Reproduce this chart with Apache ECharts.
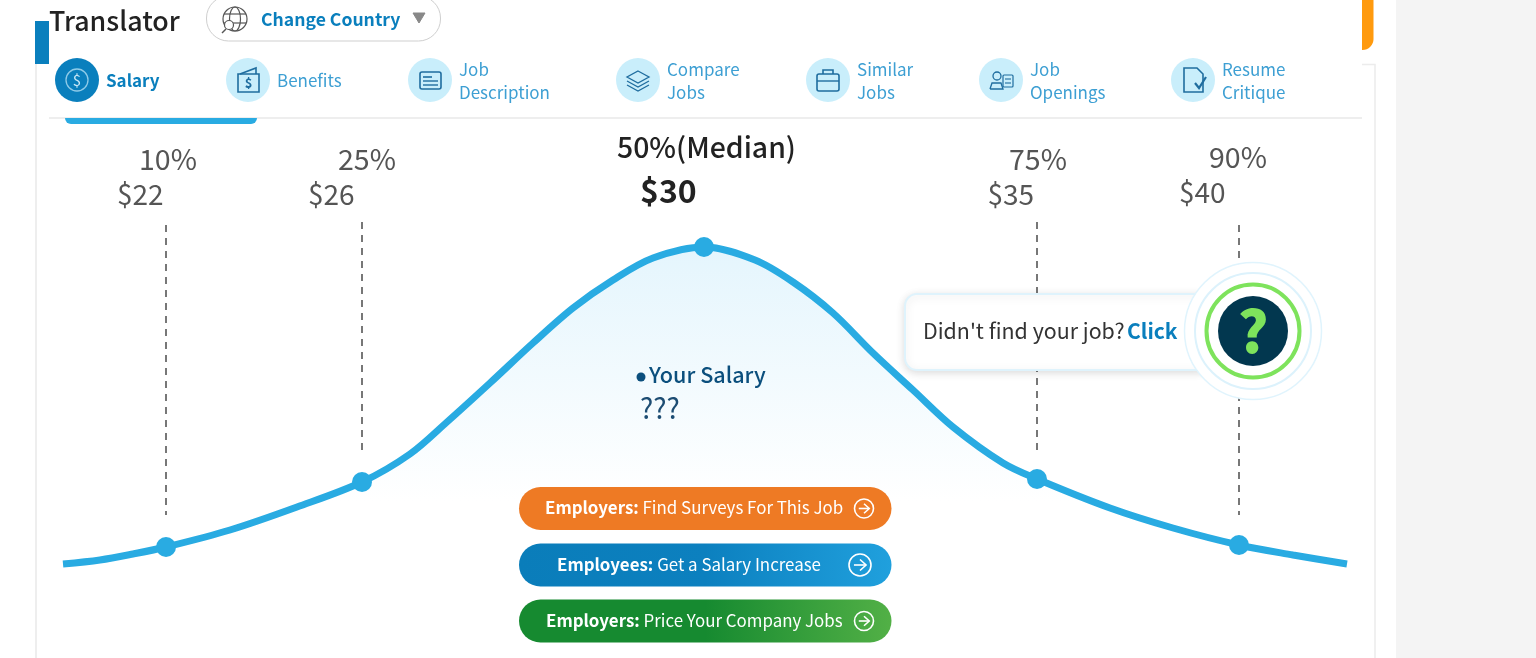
<!DOCTYPE html>
<html>
<head>
<meta charset="utf-8">
<title>Salary</title>
<style>
html,body{margin:0;padding:0;background:#fff;overflow:hidden}
#main{width:1536px;height:658px}
</style>
<script src="https://cdn.jsdelivr.net/npm/echarts@6/dist/echarts.min.js"></script>
</head>
<body>
<div id="main"></div>
<script>
// curve, x = distance along the curve, y = height above the base
var curveX = [0, 37, 70, 103, 167, 234, 299, 347, 384, 427, 470, 510, 550, 590, 641, 692, 730, 770, 810, 850, 890, 940, 974, 1047, 1110, 1176, 1230, 1284];
var curveY = [36, 40, 46, 53, 70, 93, 118, 146, 178, 217, 257, 292, 320, 342, 353, 340, 318, 287, 247, 210, 173, 137, 121, 92, 72, 55, 45, 36];
// the five marked percentiles
var markerX = [103, 299, 641, 974, 1176];
var markerY = [53, 118, 353, 121, 55];
// dashed drop lines
var guideX = [103, 299, 974, 1176];
var guideTop = [375, 378, 378, 375];
var guideBottom = [85, 150, 150, 85];

var pctLabels = ['10%', '25%', '50%(Median)', '75%', '90%'];
var salaryLabels = ['$22', '$26', '$30', '$35', '$40'];
var navLabels = [['Salary'], ['Benefits'], ['Job', 'Description'], ['Compare', 'Jobs'], ['Similar', 'Jobs'], ['Job', 'Openings'], ['Resume', 'Critique']];
var buttonLead = ['Employers:', 'Employees:', 'Employers:'];
var buttonText = ['Find Surveys For This Job', 'Get a Salary Increase', 'Price Your Company Jobs'];

var FONT = '"Noto Sans CJK SC","Noto Sans",sans-serif';
var BLUE = '#0a7fbd', ICON = '#1f6d9f', LINE = '#29abe2';

function txt(x, y, s, size, color, weight, align) {
	return {type: 'text', x: x, y: y, z: 20, silent: true, style: {
		text: s, fontSize: size, fontFamily: FONT, fontWeight: weight || 400,
		fill: color, textAlign: align || 'left', textVerticalAlign: 'middle'
	}};
}
function box(x, y, w, h, r, fill, stroke, lw, extra) {
	var st = {fill: fill || 'transparent', stroke: stroke || null, lineWidth: lw || 0};
	for (var k in extra) st[k] = extra[k];
	return {type: 'rect', z: 20, silent: true, shape: {x: x, y: y, width: w, height: h, r: r}, style: st};
}
function ring(cx, cy, r, fill, stroke, lw) {
	return {type: 'circle', z: 20, silent: true, shape: {cx: cx, cy: cy, r: r},
		style: {fill: fill || 'transparent', stroke: stroke || null, lineWidth: lw || 0}};
}
function poly(points, color, lw, fill) {
	return {type: fill ? 'polygon' : 'polyline', z: 20, silent: true, shape: {points: points},
		style: {fill: fill || 'transparent', stroke: color, lineWidth: lw || 1.5}};
}
function arrow(cx, cy, r) {
	return [
		ring(cx, cy, r, null, '#fff', 1.6),
		poly([[cx - r * 0.55, cy], [cx + r * 0.55, cy]], '#fff', 1.6),
		poly([[cx, cy - r * 0.5], [cx + r * 0.55, cy], [cx, cy + r * 0.5]], '#fff', 1.6)
	];
}
function grad(a, b, c) {
	return new echarts.graphic.LinearGradient(0, 0, 1, 0, [{offset: 0, color: a}, {offset: 0.5, color: b}, {offset: 1, color: c}]);
}

var g = [];
// page frame
g.push(box(1396, 0, 140, 658, 0, '#f4f4f4'));
g.push(poly([[36, 64], [36, 658]], '#e9e9e9', 1.5));
g.push(poly([[1362, 64.5], [1375, 64.5], [1375, 658]], '#ececec', 1.5));
g.push(box(1362, -10, 11.5, 60, [0, 0, 11, 0], '#ff9a0e'));
g.push(box(35, 21, 14, 43, 0, BLUE));
g.push(poly([[49, 118], [1362, 118]], '#eeeeee', 2));
g.push(box(65, 118, 192, 6, [0, 0, 8, 8], LINE));

// header
g.push(txt(49, 21, 'Translator', 26.8, '#222', 500));
g.push(box(206.5, -4, 234, 45, 22, '#fff', '#cfcfcf', 1));
g.push(ring(235, 19, 12, null, '#555', 1.2));
g.push({type: 'ellipse', z: 20, silent: true, shape: {cx: 235, cy: 19, rx: 5.5, ry: 12}, style: {fill: 'transparent', stroke: '#555', lineWidth: 1.2}});
g.push(poly([[224, 14], [246, 14]], '#555', 1.2));
g.push(poly([[224, 23], [246, 23]], '#555', 1.2));
g.push(ring(229, 25, 4.5, '#fff', '#555', 1.2));
g.push(poly([[226, 29], [222, 33]], '#555', 1.5));
g.push(txt(261, 19, 'Change Country', 17.6, BLUE, 700));
g.push(poly([[413, 13], [425, 13], [419, 23]], '#888', 1, '#888'));

// nav row
var navCx = [77, 248, 430, 638, 828, 1001, 1193];
var navTx = [106, 277, 459, 667, 857, 1030, 1222];
for (var i = 0; i < navLabels.length; i++) {
	g.push(ring(navCx[i], 80, 22, i == 0 ? BLUE : '#c9eefb'));
	var rows = navLabels[i];
	if (rows.length == 1) {
		g.push(txt(navTx[i], 81, rows[0], 17, i == 0 ? BLUE : '#3d9fd3', i == 0 ? 700 : 400));
	} else {
		g.push(txt(navTx[i], 70, rows[0], 17, '#3d9fd3'));
		g.push(txt(navTx[i], 93, rows[1], 17, '#3d9fd3'));
	}
}
// nav icons
g.push(ring(77, 80, 11, null, '#8fcbe8', 1.3));
g.push(txt(77, 80, '$', 15, '#cfeaf7', 400, 'center'));
g.push(box(238, 74, 21, 18, 0, null, ICON, 1.6));
g.push(poly([[240, 74], [256, 68], [256, 74]], ICON, 1.6));
g.push(txt(248.5, 83, '$', 13, ICON, 700, 'center'));
g.push(box(420, 72, 21, 17, 2, null, ICON, 1.6));
g.push(poly([[423, 77], [432, 77]], ICON, 1.6));
g.push(poly([[423, 81], [438, 81]], ICON, 1.4));
g.push(poly([[423, 85], [438, 85]], ICON, 1.4));
g.push(poly([[638, 71], [649, 77], [638, 83], [627, 77]], ICON, 1.3, '#c9eefb'));
g.push(poly([[627, 81], [638, 87], [649, 81]], ICON, 1.3));
g.push(poly([[627, 85], [638, 91], [649, 85]], ICON, 1.3));
g.push(box(817, 74, 22, 17, 2, null, ICON, 1.6));
g.push(poly([[823, 74], [823, 70], [833, 70], [833, 74]], ICON, 1.6));
g.push(poly([[817, 81], [839, 81]], ICON, 1.4));
g.push(ring(997, 76, 4, null, ICON, 1.3));
g.push(poly([[990, 89], [992, 83], [1001, 83], [1003, 89], [990, 89]], ICON, 1.3));
g.push(box(1003, 75, 10, 12, 1, null, ICON, 1.2));
g.push(poly([[1005, 79], [1011, 79]], ICON, 1.1));
g.push(poly([[1005, 83], [1011, 83]], ICON, 1.1));
g.push(poly([[1184, 68], [1197, 68], [1203, 74], [1203, 92], [1184, 92]], ICON, 1.6, '#c9eefb'));
g.push(poly([[1195, 83], [1199, 88], [1206, 77]], ICON, 2.2));

// percentile labels
var pctX = [139, 338, 617, 1009, 1209], pctY = [159.5, 159.5, 147, 159.5, 157.5];
var salX = [117, 308, 640, 987.5, 1179], salY = [194, 194, 191, 194, 192];
for (var j = 0; j < 5; j++) {
	g.push(txt(pctX[j], pctY[j], pctLabels[j], j == 2 ? 28.4 : 28.5, j == 2 ? '#222' : '#555', j == 2 ? 500 : 400));
	g.push(txt(salX[j], salY[j], salaryLabels[j], j == 2 ? 32 : 28, j == 2 ? '#222' : '#555', j == 2 ? 700 : 400));
}

// your salary
g.push(ring(641, 377, 4.5, '#0b4f7d'));
g.push(txt(649, 375, 'Your Salary', 21.6, '#0b4f7d', 500));
g.push(txt(640, 408, '???', 28, '#1d4d73'));

// callout
g.push(box(905, 294, 305, 76, 12, '#fff', '#dff3fc', 2, {shadowBlur: 9, shadowColor: 'rgba(0,0,0,0.13)', shadowOffsetY: 2}));
g.push(txt(923, 331, "Didn't find your job?", 21.4, '#333'));
g.push(txt(1127, 331, 'Click', 21, BLUE, 700));
g.push(ring(1253, 331, 68.5, '#fff', '#e0f4fd', 1.5));
g.push(ring(1253, 331, 58, '#fff', '#dcf2fc', 2));
g.push(ring(1253, 331, 46.5, '#fff', '#7ee35c', 4));
g.push(ring(1253, 331, 35, '#02374f'));
g.push(txt(1253, 331, '?', 58, '#7ee35c', 900, 'center'));

// buttons
var btnY = [487, 543.5, 599.5], btnX = [545, 557, 546], arrowX = [864, 860, 864], arrowR = [9.5, 11, 9.5];
var btnFill = ['#ee7a24', grad('#0a7dba', '#0c80bf', '#20a0dd'), grad('#168a30', '#168a30', '#52b046')];
for (var b = 0; b < 3; b++) {
	g.push(box(519, btnY[b], 372.5, 43, 21.5, btnFill[b]));
	g.push({type: 'text', x: btnX[b], y: btnY[b] + 21, z: 20, silent: true, style: {
		text: '{b|' + buttonLead[b] + '} ' + buttonText[b], fill: '#fff', fontSize: 16.9, fontFamily: FONT,
		textVerticalAlign: 'middle', rich: {b: {fontWeight: 700, fontSize: 16.9, fontFamily: FONT, fill: '#fff'}}
	}});
	g = g.concat(arrow(arrowX[b], btnY[b] + 21.5, arrowR[b]));
}

var guides = [];
for (var m = 0; m < guideX.length; m++) {
	guides.push([{coord: [guideX[m], guideTop[m]]}, {coord: [guideX[m], guideBottom[m]]}]);
}

var chart = echarts.init(document.getElementById('main'));
chart.setOption({
	animation: false,
	backgroundColor: '#fff',
	grid: {left: 63, top: 200, width: 1284, height: 400},
	xAxis: {type: 'value', min: 0, max: 1284, show: false},
	yAxis: {type: 'value', min: 0, max: 400, show: false},
	series: [{
		type: 'line',
		z: 2,
		data: curveX.map(function (x, i) { return [x, curveY[i]]; }),
		smooth: 0.33,
		showSymbol: false,
		silent: true,
		lineStyle: {color: LINE, width: 7},
		areaStyle: {
			color: new echarts.graphic.LinearGradient(0, 0, 0, 1, [
				{offset: 0, color: '#d9f1fc'},
				{offset: 0.72, color: '#ffffff'},
				{offset: 1, color: '#ffffff'}
			])
		},
		markLine: {
			silent: true,
			symbol: 'none',
			label: {show: false},
			lineStyle: {color: '#777', type: [7, 6], width: 2},
			data: guides
		}
	}, {
		type: 'scatter',
		z: 5,
		data: markerX.map(function (x, i) { return [x, markerY[i]]; }),
		symbolSize: 20,
		silent: true,
		itemStyle: {color: LINE, opacity: 1}
	}],
	graphic: {elements: g}
});
</script>
</body>
</html>
